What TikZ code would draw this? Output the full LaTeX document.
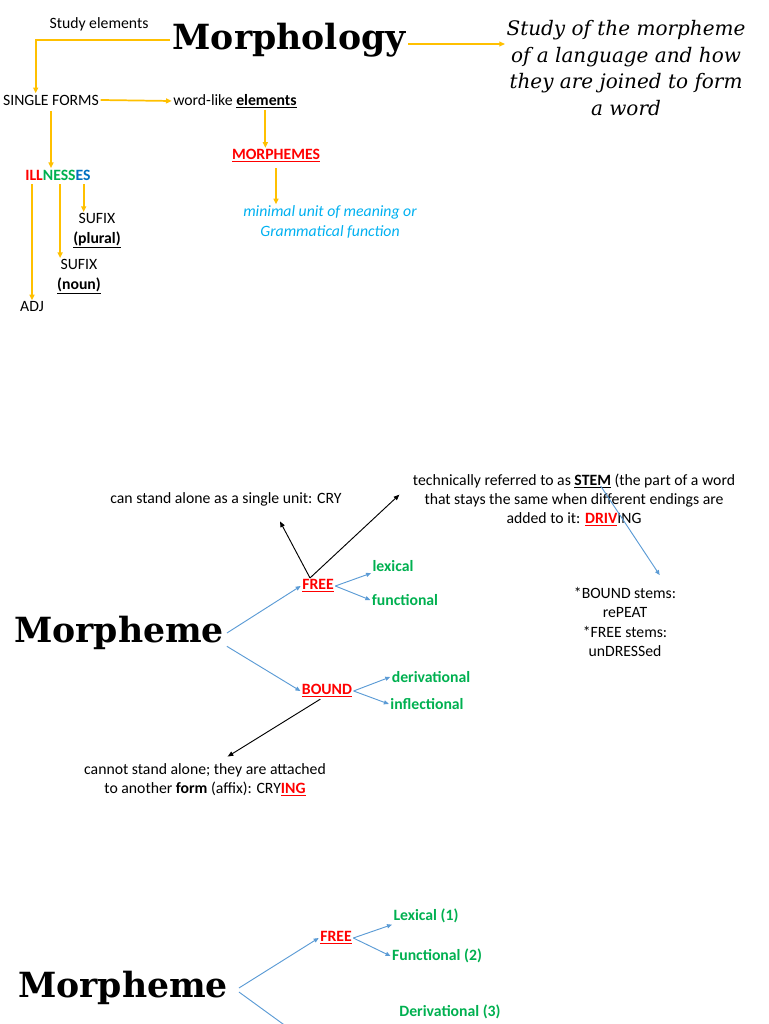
\documentclass[tikz,border=0pt]{standalone}
\usepackage{fontspec}
\setmainfont{Carlito}
\newfontfamily\titelfont{DejaVu Serif}
\newfontfamily\kursivfont{DejaVu Serif}
\usetikzlibrary{arrows.meta}
\definecolor{gelb}{HTML}{FFC000}
\definecolor{blau}{HTML}{5B9BD5}
\definecolor{hblau}{HTML}{00B0F0}
\definecolor{dblau}{HTML}{0070C0}
\definecolor{rot}{HTML}{FF0000}
\definecolor{gruen}{HTML}{00B050}
\tikzset{
  pg/.style={-{Triangle[length=1.5mm,width=1.3mm]},gelb,line width=1.3pt},
  pb/.style={-{Triangle[length=1.3mm,width=1.1mm]},blau,line width=0.7pt},
  ps/.style={-{Triangle[length=1.5mm,width=1.2mm]},black,line width=0.7pt},
  txt/.style={font=\fontsize{11.8}{14.5}\selectfont,inner sep=1pt,align=center},
  fett/.style={txt,font=\fontsize{11.8}{14.5}\selectfont\bfseries},
  rotw/.style={fett,text=rot},
  gruenw/.style={fett,text=gruen},
  titel/.style={font=\titelfont\bfseries\fontsize{26}{30}\selectfont,inner sep=2pt},
  defi/.style={font=\kursivfont\itshape\fontsize{15}{20}\selectfont,align=center,inner sep=1pt},
}

\begin{document}
\begin{tikzpicture}[x=0.75pt,y=-0.75pt]
  \useasboundingbox (0,0) rectangle (768,1024);
  \clip (0,0) rectangle (768,1024);
  % Morphology
  \node[titel] (morph) at (289,40) {Morphology};
  \node[txt] (studyel) at (99,24) {Study elements};
  \node[defi] (defin) at (626,68) {Study of the morpheme\\of a language and how\\they are joined to form\\a word};
  \node[txt] (single) at (51,100) {SINGLE FORMS};
  \node[txt] (wordlike) at (235,101) {word-like \textbf{\underline{elements}}};
  \node[rotw] (morphemes) at (276,156) {\underline{MORPHEMES}};
  \node[txt,font=\fontsize{11.8}{14.5}\selectfont\itshape,text=hblau] (minimal) at (330,222) {minimal unit of meaning or\\Grammatical function};
  \node[fett] (ill) at (58,175) {\textcolor{rot}{ILL}\textcolor{gruen}{NESS}\textcolor{dblau}{ES}};
  \node[txt] (sufpl) at (97,231) {SUFIX\\\textbf{\underline{(plural)}}};
  \node[txt] (sufno) at (79,277) {SUFIX\\\textbf{\underline{(noun)}}};
  \node[txt] (adj) at (32,307) {ADJ};
  \draw[pg] (morph.west) -| ([xshift=-11.5pt]single.north);
  \draw[pg] ([yshift=-3pt]morph.east) -- ([yshift=-3pt]morph.east -| defin.west);
  \draw[pg] (single.east) -- (wordlike.west);
  \draw[pg] ([xshift=-8pt]morphemes.north |- wordlike.south) -- ([xshift=-8pt]morphemes.north);
  \draw[pg] ([yshift=-3pt]morphemes.south) -- (morphemes.south |- minimal.north);
  \draw[pg] ([yshift=-3pt]single.south) -- (ill.north -| single.south);
  \draw[pg] ([yshift=-2pt]ill.south -| adj.north) -- (adj.north);
  \draw[pg] ([yshift=-2pt,xshift=3.4pt]ill.south -| sufno.north west) -- ([xshift=3.4pt]sufno.north west);
  \draw[pg] ([yshift=-2pt,xshift=9pt]ill.south -| sufpl.north west) -- ([xshift=9pt]sufpl.north west);

  % Morpheme 1
  \node[titel] (mph) at (119,633) {Morpheme};
  \node[rotw] (free) at (318,586) {\underline{FREE}};
  \node[gruenw] (lex) at (393,566) {lexical};
  \node[gruenw] (func) at (405,600) {functional};
  \node[rotw] (bound) at (327,691) {\underline{BOUND}};
  \node[gruenw] (deriv) at (431,677) {derivational};
  \node[gruenw] (infl) at (427,704) {inflectional};
  \node[txt] (alone) at (226,499) {can stand alone as a single unit: CRY};
  \node[txt] (stem) at (574,500) {technically referred to as \textbf{\underline{STEM}} (the part of a word\\that stays the same when different endings are\\added to it: \textcolor{rot}{\textbf{\underline{DRIV}}}ING};
  \node[txt] (stems) at (625,622) {*BOUND stems:\\rePEAT\\*FREE stems:\\unDRESSed};
  \node[txt] (cannot) at (205,780) {cannot stand alone; they are attached\\to another \textbf{form} (affix): CRY\textcolor{rot}{\textbf{\underline{ING}}}};
  \draw[pb] (mph.east) -- (free.west);
  \draw[pb] ([yshift=-10pt]mph.east) -- (bound.west);
  \draw[pb] (free.east) -- (lex.south west);
  \draw[pb] (free.east) -- (func.west);
  \draw[pb] (bound.east) -- (deriv.west);
  \draw[pb] (bound.east) -- (infl.west);
  \draw[ps] ([xshift=-6pt]free.north) -- ([xshift=40.5pt,yshift=-10.5pt]alone.south);
  \draw[ps] ([xshift=-6pt]free.north) -- ([xshift=-9pt,yshift=4pt]stem.west);
  \draw[pb] ([xshift=20pt,yshift=-10.5pt]stem.north) -- ([xshift=26pt,yshift=8pt]stems.north);
  \draw[ps] ([xshift=-5pt]bound.south) -- ([xshift=17pt,yshift=4pt]cannot.north);

  % Morpheme 2
  \node[titel] (mph2) at (123,988) {Morpheme};
  \node[rotw] (free2) at (336,938) {\underline{FREE}};
  \node[gruenw] (lex2) at (426,916) {Lexical (1)};
  \node[gruenw] (func2) at (437,956) {Functional (2)};
  \node[gruenw] (deriv2) at (450,1012) {Derivational (3)};
  \coordinate (bound2) at (305,1040);
  \draw[pb] ([xshift=6pt]mph2.east) -- (free2.west);
  \draw[pb] ([xshift=6pt,yshift=-3pt]mph2.east) -- (bound2);
  \draw[pb] (free2.east) -- (lex2.south west);
  \draw[pb] (free2.east) -- (func2.west);
\end{tikzpicture}
\end{document}
